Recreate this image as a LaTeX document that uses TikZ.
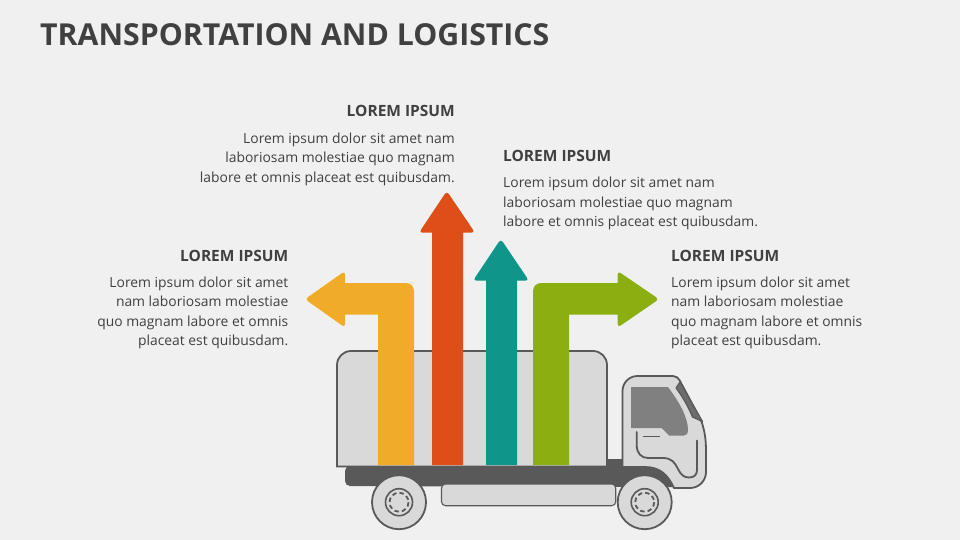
\documentclass[tikz,border=0pt]{standalone}
\usepackage{fontspec}
\setmainfont{Open Sans}
\definecolor{bg}{HTML}{F0F0F0}
\definecolor{ink}{HTML}{404040}
\definecolor{truckline}{HTML}{595959}
\definecolor{truckfill}{HTML}{D9D9D9}
\definecolor{glass}{HTML}{808080}
\definecolor{cyellow}{HTML}{F0AB28}
\definecolor{corange}{HTML}{DD4E19}
\definecolor{cteal}{HTML}{10958B}
\definecolor{cgreen}{HTML}{8BAF10}
\tikzset{
  x=1pt,y=-1pt,
  titletext/.style={inner sep=0,anchor=base west,text=ink,font=\fontsize{30.25}{36}\selectfont\bfseries},
  headtext/.style={inner sep=0,text=ink,font=\fontsize{15.5}{19.4}\selectfont\bfseries},
  bodytext/.style={inner sep=0,text=ink,font=\fontsize{13.87}{19.4}\selectfont},
  truckpart/.style={draw=truckline,fill=truckfill,line width=1.8},
  thinline/.style={draw=truckline,line width=1.8,line cap=round},
}
\begin{document}
\begin{tikzpicture}
\useasboundingbox (0,0) rectangle (960,540);
\fill[bg] (0,0) rectangle (960,540);
% title
\node[titletext] (title) at (40,46) {TRANSPORTATION AND LOGISTICS};
% truck chassis
\fill[truckline] (345,466) -- (607,466) -- (607,459) -- (640,459) -- (660,467) -- (674,487) -- (660,487)
  [rounded corners=5] -- (345,486) -- cycle;
% truck box
\draw[truckpart] (337,466.5) [rounded corners=14] -- (337,351) -- (607,351) [sharp corners] -- (607,466.5) -- cycle;
% cab
\draw[truckpart] (622.5,467) [rounded corners=15] -- (622.5,376) [rounded corners=5] -- (678,376) [sharp corners] -- (680,381) -- (701.5,421.5)
  .. controls (705,432) and (706,440) .. (706,452) [rounded corners=16] -- (706,488) [sharp corners] -- (674,488)
  .. controls (668,475) and (660,467) .. (645,467) -- cycle;
\fill[glass] (631,387) -- (668,387) .. controls (680,403) and (688,418) .. (688,430) .. controls (688,434) and (686,435.5) .. (684,435.5) -- (669,435.5) -- (661.5,428) -- (631,428) -- cycle;
\draw[draw=truckline,fill=glass!50!truckline,line width=1.2,line join=round] (676,388) -- (680,382) -- (702.5,421.5) -- (692.5,417) .. controls (688,406) and (682,396) .. (676,388) -- cycle;
\draw[thinline] (636.7,432) -- (636.7,445) .. controls (636.7,453) and (641,458) .. (648,458) -- (663,458)
  .. controls (672,458) and (675,463) .. (678,469) .. controls (681,475) and (684,477.5) .. (689,477.5)
  .. controls (694,477.5) and (697,475) .. (697,470) -- (697,440.5);
\draw[thinline,line width=1.3] (643.5,436.7) -- (659.5,436.7);
% side skirt
\draw[draw=truckline,fill=truckfill,line width=1.1,rounded corners=4] (441.5,484) rectangle (615.7,505.7);
% wheels
\foreach \n/\cx in {rear/399,front/644.7}{
  \draw[truckpart] (\cx,502.2) circle[radius=27];
  \draw[draw=truckline,line width=1.6] (\cx,502.2) circle[radius=13.5];
  \draw[draw=truckline,line width=1.8,dash pattern=on 4.4 off 3.1] (\cx,502.2) circle[radius=9.5];
}
% arrows
\fill[cyellow] (378,465) -- (378,314.7) -- (345,314.7) [rounded corners=3.5] -- (345,327.5) -- (305,299.2) -- (345,271) [sharp corners] -- (345,283) [rounded corners=8] -- (414,283) [sharp corners] -- (414,465) -- cycle;
\fill[corange] (432,465) -- (432,232.7) [rounded corners=3.5] -- (419,232.7) -- (446.8,191) -- (475,232.7) [sharp corners] -- (463,232.7) -- (463,465) -- cycle;
\fill[cteal] (486,465) -- (486,280.7) [rounded corners=3.5] -- (473,280.7) -- (500.8,239) -- (529,280.7) [sharp corners] -- (517,280.7) -- (517,465) -- cycle;
\fill[cgreen] (533,465) [rounded corners=8] -- (533,283) [sharp corners] -- (617.7,283) [rounded corners=3.5] -- (617.7,271) -- (659,299.2) -- (617.7,327.5) [sharp corners] -- (617.7,314.7) -- (569,314.7) -- (569,465) -- cycle;
% texts
\node[headtext,anchor=base east] (h1) at (455,117) {LOREM IPSUM};
\node[bodytext,anchor=north east,align=right] (b1) at (455,132.5) {Lorem ipsum dolor sit amet nam\\laboriosam molestiae quo magnam\\labore et omnis placeat est quibusdam.};
\node[headtext,anchor=base west] (h2) at (503,161) {LOREM IPSUM};
\node[bodytext,anchor=north west,align=left] (b2) at (503,177) {Lorem ipsum dolor sit amet nam\\laboriosam molestiae quo magnam\\labore et omnis placeat est quibusdam.};
\node[headtext,anchor=base east] (h3) at (288.5,261) {LOREM IPSUM};
\node[bodytext,anchor=north east,align=right] (b3) at (288.5,276.5) {Lorem ipsum dolor sit amet\\nam laboriosam molestiae\\quo magnam labore et omnis\\placeat est quibusdam.};
\node[headtext,anchor=base west] (h4) at (671,261) {LOREM IPSUM};
\node[bodytext,anchor=north west,align=left] (b4) at (671,276.5) {Lorem ipsum dolor sit amet\\nam laboriosam molestiae\\quo magnam labore et omnis\\placeat est quibusdam.};
\end{tikzpicture}
\end{document}
